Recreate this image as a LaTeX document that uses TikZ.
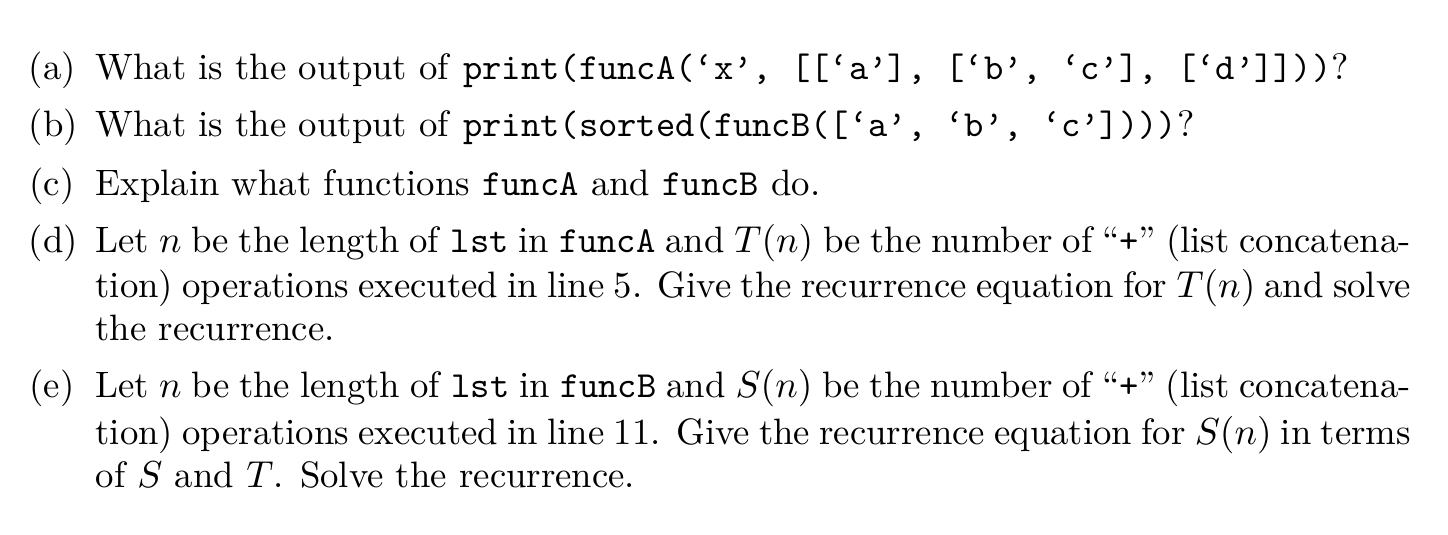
\documentclass[tikz,border=0pt]{standalone}
\begin{document}
\begin{tikzpicture}[x=1pt,y=1pt,
  lab/.style={anchor=base west,inner sep=0pt,font=\fontsize{9.8}{12}\selectfont},
  txt/.style={anchor=base west,inner sep=0pt,font=\fontsize{9.8}{12}\selectfont}]
\useasboundingbox (0,0) rectangle (386.1,-142.4);
\node[lab] (la) at (7.5,-21.3) {(a)};
\node[txt] (ta) at (25.3,-21.3) {What is the output of \texttt{print(funcA(‘x’, [[‘a’], [‘b’, ‘c’], [‘d’]]))}?};
\node[lab] (lb) at (7.5,-36.5) {(b)};
\node[txt] (tb) at (25.3,-36.5) {What is the output of \texttt{print(sorted(funcB([‘a’, ‘b’, ‘c’])))}?};
\node[lab] (lc) at (7.7,-52) {(c)};
\node[txt] (tc) at (25.3,-52) {Explain what functions \texttt{funcA} and \texttt{funcB} do.};
\node[lab] (ld) at (7.5,-67.2) {(d)};
\node[txt] (td1) at (25.3,-67.2) {\hbox to 350.7pt{Let $n$ be the length of \texttt{lst} in \texttt{funcA} and $T(n)$ be the number of ``\texttt{+}'' (list concatena-}};
\node[txt] (td2) at (25.3,-79.2) {\hbox to 350.7pt{tion) operations executed in line 5. Give the recurrence equation for $T(n)$ and solve}};
\node[txt] (td3) at (25.3,-90.9) {the recurrence.};
\node[lab] (le) at (7.7,-106.1) {(e)};
\node[txt] (te1) at (25.3,-106.1) {\hbox to 350.7pt{Let $n$ be the length of \texttt{lst} in \texttt{funcB} and $S(n)$ be the number of ``\texttt{+}'' (list concatena-}};
\node[txt] (te2) at (25.3,-118.4) {\hbox to 350.7pt{tion) operations executed in line 11. Give the recurrence equation for $S(n)$ in terms}};
\node[txt] (te3) at (25.3,-130.1) {of $S$ and $T$. Solve the recurrence.};
\end{tikzpicture}
\end{document}
